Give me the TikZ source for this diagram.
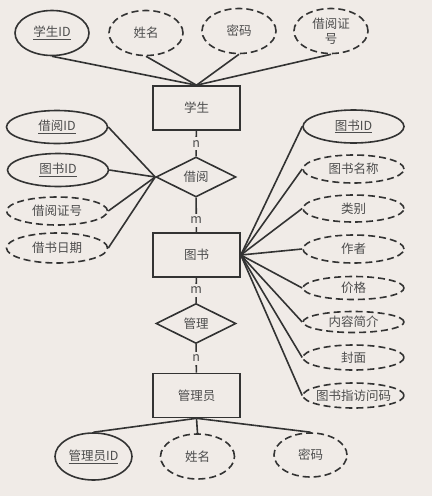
\documentclass[tikz,border=0pt]{standalone}
\usepackage{fontspec}
\setmainfont{Noto Sans CJK SC}
\usepackage{tikz}
\usetikzlibrary{shapes.geometric}

\definecolor{bgc}{HTML}{F0EBE7}
\definecolor{linec}{HTML}{333333}
\definecolor{txtc}{HTML}{4D4D4D}

\begin{document}
\begin{tikzpicture}[x=1pt, y=-1pt, line width=1.6pt, color=linec, text=txtc,
    font=\fontsize{12.5}{14}\selectfont,
    ent/.style={draw, rectangle, minimum width=87pt, minimum height=44pt, fill=bgc},
    rel/.style={draw, diamond, minimum width=80pt, minimum height=40pt, inner sep=0pt, fill=bgc},
    keyattr/.style={draw, ellipse, inner sep=0pt, fill=bgc, minimum width=101pt, minimum height=33pt},
    attr/.style={keyattr, dash pattern=on 7pt off 4pt, minimum height=28pt},
    round/.style={minimum width=74pt, minimum height=45pt},
    lbl/.style={fill=bgc, inner xsep=2pt, inner ysep=3pt}]
        \fill[bgc] (0,0) rectangle (432,496);
        \useasboundingbox (0,0) rectangle (432,496);

        % entities and relations
        \node[ent] (stu) at (196.5,108) {学生};
        \node[rel] (borrow) at (196,177) {借阅};
        \node[ent] (book) at (196.5,255) {图书};
        \node[rel] (manage) at (196,323.5) {管理};
        \node[ent] (admin) at (196.5,395.5) {管理员};

        \draw (stu) -- node[lbl] {n} (borrow);
        \draw (borrow) -- node[lbl, pos=0.65] {m} (book);
        \draw (book) -- node[lbl] {m} (manage);
        \draw (manage) -- node[lbl] {n} (admin);

        % student
        \node[keyattr, round] (sid) at (52,33) {\underline{学生ID}};
        \node[attr, round] (sname) at (146,33) {姓名};
        \node[attr, round] (spwd) at (239,31) {密码};
        \node[attr, round, align=center, font=\fontsize{12.5}{15}\selectfont] (scard) at (331,31) {借阅证\\号};

        \draw (sid.south) -- (stu.north);
        \draw (sname.south) -- (stu.north);
        \draw (spwd.south) -- (stu.north);
        \draw (scard.south) -- (stu.north);

        % borrow
        \node[keyattr] (bwid) at (57,127) {\underline{借阅ID}};
        \node[keyattr] (bwbook) at (58,170) {\underline{图书ID}};
        \node[attr] (bwcard) at (57,211) {借阅证号};
        \node[attr, minimum height=30pt] (bwdate) at (57,248) {借书日期};

        \draw (bwid.east) -- (borrow.west);
        \draw (bwbook.east) -- (borrow.west);
        \draw (bwcard.east) -- (borrow.west);
        \draw (bwdate.east) -- (borrow.west);

        % book
        \node[keyattr] (bid) at (353.5,126.5) {\underline{图书ID}};
        \node[attr] (bname) at (353.5,169) {图书名称};
        \node[attr, minimum height=27pt] (btype) at (353.5,208.5) {类别};
        \node[attr] (bauthor) at (353.5,249) {作者};
        \node[attr, minimum height=23pt] (bprice) at (353.5,288) {价格};
        \node[attr, minimum height=21pt] (bintro) at (353.5,322) {内容简介};
        \node[attr, minimum height=25pt] (bcover) at (353.5,357.5) {封面};
        \node[attr, minimum height=25pt, inner xsep=-12pt, inner ysep=-3pt] (bcode) at (353.5,395.5) {图书指访问码};

        \draw (bid.west) -- (book.east);
        \draw (bname.west) -- (book.east);
        \draw (btype.west) -- (book.east);
        \draw (bauthor.west) -- (book.east);
        \draw (bprice.west) -- (book.east);
        \draw (bintro.west) -- (book.east);
        \draw (bcover.west) -- (book.east);
        \draw (bcode.west) -- (book.east);

        % admin
        \node[keyattr, round, minimum width=77pt, minimum height=47pt] (aid) at (93.5,456.5) {\underline{管理员ID}};
        \node[attr, round] (aname) at (197.5,456.5) {姓名};
        \node[attr, round, minimum width=73pt, minimum height=44pt] (apwd) at (310.5,455) {密码};

        \draw (aid.north) -- (admin.south);
        \draw (aname.north) -- (admin.south);
        \draw (apwd.north) -- (admin.south);
    \end{tikzpicture}
\end{document}
